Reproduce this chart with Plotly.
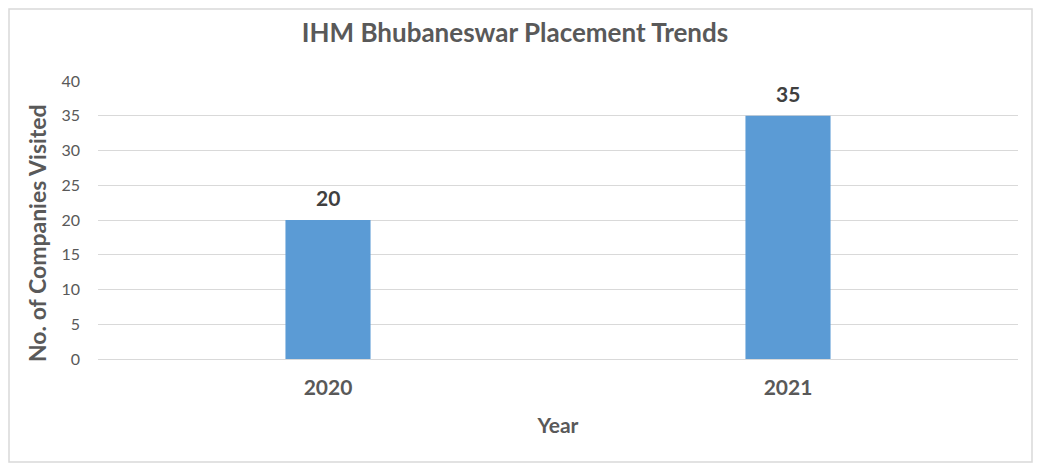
import plotly.graph_objects as go

years = ["2020", "2021"]
companies = [20, 35]
y_ticks = [0, 5, 10, 15, 20, 25, 30, 35, 40]

font_family = "Lato, 'Open Sans', sans-serif"

W, H = 1026, 456
L, R, T, B = 90, 16, 73, 105
PW, PH = W - L - R, H - T - B

fig = go.Figure(
    go.Bar(
        x=years,
        y=companies,
        marker=dict(color="#5B9BD5", line=dict(width=0)),
        hoverinfo="x+y",
    )
)

# category index positions for the value labels
for i, v in enumerate(companies):
    fig.add_annotation(
        x=i, y=v, xref="x", yref="y",
        text=f"<b>{v}</b>", showarrow=False,
        yanchor="bottom", yshift=8,
        font=dict(family=font_family, size=21, color="#404040"),
    )

# y-axis title (placed as annotation to match offset)
fig.add_annotation(
    x=-(L - 29) / PW, y=0.5 - 13 / PH, xref="paper", yref="paper",
    text="<b>No. of Companies Visited</b>", showarrow=False,
    textangle=-90, xanchor="center", yanchor="middle",
    font=dict(family=font_family, size=23, color="#595959"),
)

fig.update_layout(
    width=W,
    height=H,
    margin=dict(l=L, r=R, t=T, b=B),
    paper_bgcolor="white",
    plot_bgcolor="white",
    bargap=0.815,
    showlegend=False,
    title=dict(
        text="<b>IHM Bhubaneswar Placement Trends</b>",
        x=507 / W,
        xanchor="center",
        y=1 - 25 / H,
        yanchor="middle",
        font=dict(family=font_family, size=26, color="#595959"),
    ),
    xaxis=dict(
        type="category",
        categoryorder="array",
        categoryarray=years,
        range=[-0.5, len(years) - 0.5],
        title=dict(text="<b>Year</b>", font=dict(family=font_family, size=21, color="#595959"), standoff=20),
        tickfont=dict(family=font_family, size=21, color="#595959", weight="bold"),
        showgrid=False,
        showline=True,
        linecolor="#D9D9D9",
        linewidth=1,
        ticks="",
        ticklabelstandoff=10,
    ),
    yaxis=dict(
        range=[0, 40],
        tickvals=y_ticks,
        tickfont=dict(family=font_family, size=16, color="#595959"),
        showgrid=True,
        gridcolor="#D9D9D9",
        gridwidth=1,
        zeroline=False,
        ticks="",
        ticklabelstandoff=17,
    ),
    shapes=[
        dict(
            type="rect", xref="paper", yref="paper",
            x0=-(L - 1) / PW, x1=1 + (R - 2) / PW,
            y0=-(B - 2) / PH, y1=1 + (T - 1) / PH,
            line=dict(color="#D9D9D9", width=1.5),
            fillcolor="rgba(0,0,0,0)",
            layer="below",
        )
    ],
)

fig.write_html("out.html")
